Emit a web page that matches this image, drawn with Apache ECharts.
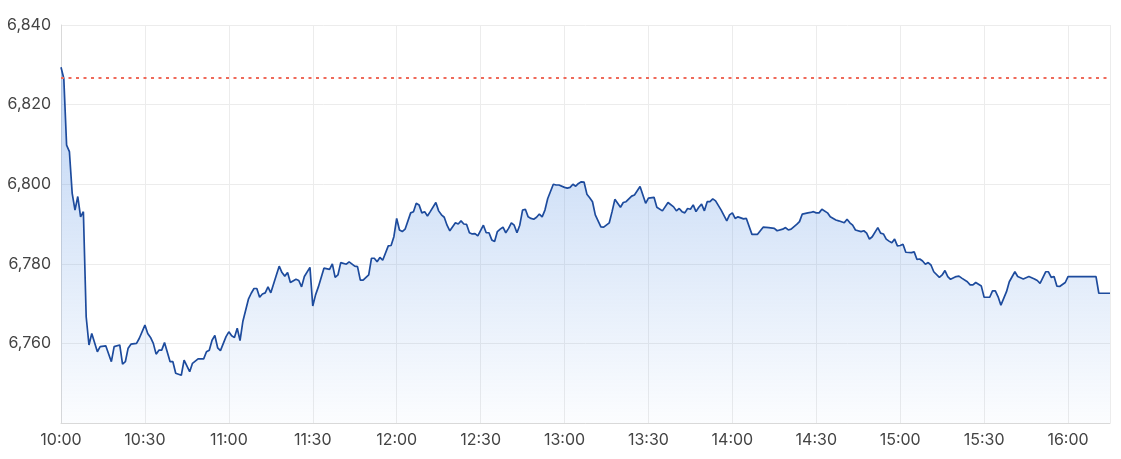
<!doctype html>
<html lang="en">
<head>
<meta charset="UTF-8">
<script src="https://cdn.jsdelivr.net/npm/echarts@6/dist/echarts.min.js"></script>
<title>Intraday</title>
<style>
  html, body { margin: 0; padding: 0; background: #fff; }
  #main { width: 1121px; height: 459px; }
</style>
</head>
<body>
<div id="main"></div>
<script>
// minutes after 10:00 and index level
var minutes = [0,1,2,3,4,5,6,7,8,9,10,11,13,14,16,18,19,21,22,23,24,25,27,28,30,31,32,33,34,35,36,37,39,40,41,43,44,46,47,49,51,52,53,54,55,56,57,59,60,61,62,63,64,65,67,68,69,70,71,72,73,74,75,77,78,79,80,81,82,84,85,86,87,89,90,91,92,94,96,97,98,99,100,102,103,105,106,107,108,110,111,112,113,114,115,117,118,119,120,121,122,123,125,126,127,128,129,130,131,132,134,135,136,137,138,139,140,141,142,143,144,145,146,147,148,149,151,152,153,154,155,156,157,158,159,160,161,162,163,164,165,166,167,168,169,170,171,172,173,174,176,177,178,180,181,182,183,184,185,186,187,188,189,190,191,193,194,196,197,198,200,201,202,204,205,207,209,210,212,213,215,217,219,220,221,222,223,224,225,226,227,228,229,230,231,232,233,234,236,238,239,240,241,242,244,245,247,249,251,253,255,256,258,259,260,261,263,264,265,267,268,269,270,271,272,274,275,277,278,280,281,282,283,284,286,287,288,289,290,292,293,294,295,296,297,298,299,300,301,302,304,305,306,307,308,309,310,311,312,314,315,316,317,318,320,321,322,324,325,326,327,329,330,332,333,334,335,336,338,339,341,342,344,346,348,349,350,352,353,354,355,356,357,359,360,370,371,375];
var levels = [6829.4,6826.6,6809.8,6808.2,6797.7,6793.5,6796.9,6791.8,6793.1,6766.7,6759.6,6762.5,6757.9,6759.2,6759.4,6755.4,6759.2,6759.6,6754.8,6755.4,6758.8,6759.8,6760,6761.3,6764.6,6762.5,6761.5,6760,6757.3,6758.3,6758.3,6760.2,6755.4,6755.4,6752.5,6752,6755.8,6752.9,6755,6756.1,6756.1,6757.9,6758.3,6760.8,6762,6758.9,6758.2,6761.7,6762.9,6761.9,6761.5,6763.8,6760.7,6765.5,6771.1,6772.6,6773.8,6773.8,6771.6,6772.4,6772.7,6774.2,6772.7,6777.2,6779.4,6777.8,6776.9,6777.8,6775.3,6776.1,6775.8,6774.2,6776.8,6779.1,6769.4,6772.2,6774.2,6778.9,6778.6,6780,6776.6,6777.2,6780.3,6779.9,6780.5,6779.4,6779.3,6775.9,6775.9,6777.2,6781.4,6781.4,6780.5,6781.6,6780.9,6784.5,6784.6,6786.8,6791.4,6788.5,6788.1,6788.7,6792.8,6793.1,6795.2,6794.8,6792.8,6793.1,6792,6793.1,6795.4,6793.3,6792.3,6791.7,6789.7,6788.3,6789.3,6790.3,6790,6790.8,6790,6789.9,6787.8,6787.5,6787.6,6787,6789.7,6787.8,6787.8,6786,6785.6,6788.1,6788.7,6789.2,6787.8,6788.9,6790.3,6789.7,6787.8,6789.7,6793.5,6793.7,6791.8,6791.4,6791.2,6791.7,6792.5,6791.8,6793.5,6796.4,6800,6799.8,6799.8,6799.2,6799,6799.2,6800,6799.5,6800.2,6800.6,6800.5,6797.5,6796.6,6795.6,6792.3,6789.3,6789.2,6790.3,6793.1,6796.2,6794.2,6795.4,6795.6,6797,6797.3,6799.4,6795.2,6796.5,6796.7,6794.2,6793.3,6795.4,6794.3,6793.3,6793.9,6793.1,6792.8,6793.9,6793.7,6794.8,6793.1,6794.2,6795,6793.3,6795.6,6795.6,6796.3,6795.8,6793.5,6790.8,6792.3,6792.8,6791.4,6791.8,6791.3,6791.4,6787.4,6787.4,6789.2,6789.1,6788.9,6788.3,6788.7,6789.1,6788.5,6788.7,6789.9,6790.6,6792.5,6792.8,6792.9,6793.1,6792.8,6792.8,6793.7,6792.8,6791.8,6791,6790.8,6790.3,6791.2,6790.3,6789.7,6788.5,6788.1,6788.3,6787.7,6786.2,6786.8,6789.1,6787.7,6787.5,6786.2,6785.7,6785.3,6786.2,6784.5,6784.6,6784.9,6782.9,6782.8,6783,6781.1,6781.2,6780.7,6779.9,6780.3,6779.7,6778,6776.6,6777.2,6778.3,6776.8,6776.1,6776.8,6776.9,6776.4,6775.5,6774.7,6774.7,6775.3,6774.4,6771.6,6771.6,6773.2,6773.2,6771.7,6769.6,6773,6775.5,6778,6776.8,6776.2,6776.8,6776.2,6775.8,6775.1,6778,6778,6776.6,6776.8,6774.4,6774.3,6775.3,6776.8,6776.8,6772.6,6772.6];
var prevClose = 6826.7;

var points = [];
for (var i = 0; i < minutes.length; i++) {
    points.push([minutes[i], levels[i]]);
}

function clock(m) {
    var h = 10 + Math.floor(m / 60);
    var mm = m % 60;
    return h + ':' + (mm < 10 ? '0' + mm : mm);
}

var myChart = echarts.init(document.getElementById('main'));
myChart.setOption({
    animation: false,
    textStyle: { fontFamily: 'Inter, Roboto, sans-serif' },
    grid: { left: 61, right: 11, top: 25, bottom: 36, containLabel: false },
    xAxis: {
        type: 'value',
        min: 0,
        max: 375,
        interval: 30,
        axisLine: { show: true, lineStyle: { color: '#d9d9d9' } },
        axisTick: { show: false },
        axisLabel: {
            color: '#444',
            fontSize: 16,
            margin: 9,
            showMaxLabel: false,
            formatter: function (v) { return clock(v); }
        },
        splitLine: { show: true, lineStyle: { color: '#ececec' } }
    },
    yAxis: {
        type: 'value',
        min: 6740,
        max: 6840,
        interval: 20,
        axisLine: { show: true, lineStyle: { color: '#d9d9d9' } },
        axisTick: { show: false },
        axisLabel: {
            color: '#444',
            fontSize: 16,
            margin: 10,
            showMinLabel: false,
            formatter: function (v) { return v.toLocaleString('en-US'); }
        },
        splitLine: { lineStyle: { color: '#ececec' } }
    },
    series: [{
        type: 'line',
        data: points,
        showSymbol: false,
        lineStyle: { color: '#1d4b9d', width: 1.7 },
        areaStyle: {
            color: new echarts.graphic.LinearGradient(0, 0, 0, 1, [
                { offset: 0, color: 'rgba(95,150,228,0.58)' },
                { offset: 1, color: 'rgba(95,150,228,0.03)' }
            ])
        },
        markLine: {
            silent: true,
            symbol: 'none',
            label: { show: false },
            lineStyle: { color: '#ef6a5a', type: [3, 4.5], width: 2 },
            data: [{ yAxis: prevClose }]
        }
    }]
});
</script>
</body>
</html>
